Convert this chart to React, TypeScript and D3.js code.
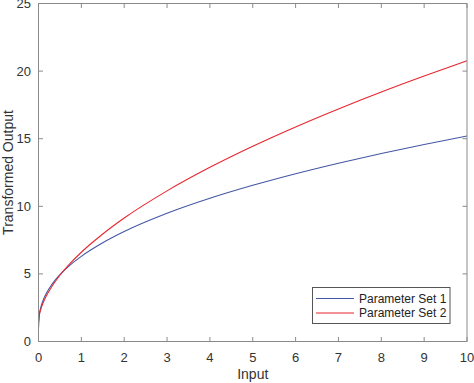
import React from "react";
import * as d3 from "d3";

const xValues = [0, 0.02, 0.05, 0.1, 0.2, 0.3, 0.5, 0.75, 1, 1.5, 2, 3, 4, 5, 6, 7, 8, 9, 10];
const set1 = [1.0, 1.99, 2.47, 2.98, 3.66, 4.17, 4.94, 5.69, 6.3, 7.3, 8.13, 9.48, 10.59, 11.55, 12.41, 13.19, 13.91, 14.57, 15.2];
const set2 = [1.45, 1.96, 2.34, 2.8, 3.47, 4.01, 4.9, 5.81, 6.6, 7.95, 9.13, 11.14, 12.88, 14.44, 15.87, 17.2, 18.45, 19.63, 20.77];
const seriesNames = ["Parameter Set 1", "Parameter Set 2"];
const xTicks = [0, 1, 2, 3, 4, 5, 6, 7, 8, 9, 10];
const yTicks = [0, 5, 10, 15, 20, 25];

const W = 474, H = 383;
const L = 38.5, R = 467, T = 3.5, B = 341.5;
const colors = ["#4457a3", "#e8262f"];
const axisColor = "#8a8a8a";
const textColor = "#333";
const font = "'Liberation Sans', Arial, Helvetica, sans-serif";

export default function App() {
  const x = d3.scaleLinear().domain([0, 10]).range([L, R]);
  const y = d3.scaleLinear().domain([0, 25]).range([B, T]);
  const line = d3
    .line<number>()
    .x((_, i) => x(xValues[i]))
    .y((d) => y(d))
    .curve(d3.curveMonotoneX);
  const series = [set1, set2];
  const tl = 4.5;
  return (
    <svg width={W} height={H} style={{ position: "absolute", left: 0, top: 0, background: "#fff" }}>
      <rect x={0} y={0} width={W} height={H} fill="#fff" />
      {series.map((s, i) => (
        <path key={i} d={line(s) || ""} fill="none" stroke={colors[i]} strokeWidth={1.1} />
      ))}
      <rect x={L} y={T} width={R - L} height={B - T} fill="none" stroke={axisColor} strokeWidth={1} />
      {xTicks.map((t) => (
        <g key={"x" + t}>
          <line x1={x(t)} x2={x(t)} y1={B} y2={B - tl} stroke={axisColor} />
          <line x1={x(t)} x2={x(t)} y1={T} y2={T + tl} stroke={axisColor} />
          <text x={x(t)} y={362} textAnchor="middle" fontSize={13} fill={textColor} fontFamily={font}>
            {t}
          </text>
        </g>
      ))}
      {yTicks.map((t) => (
        <g key={"y" + t}>
          <line x1={L} x2={L + tl} y1={y(t)} y2={y(t)} stroke={axisColor} />
          <line x1={R} x2={R - tl} y1={y(t)} y2={y(t)} stroke={axisColor} />
          <text x={31} y={y(t) + 4.5} textAnchor="end" fontSize={13} fill={textColor} fontFamily={font}>
            {t}
          </text>
        </g>
      ))}
      <text x={(L + R) / 2} y={379} textAnchor="middle" fontSize={14} fill={textColor} fontFamily={font}>
        Input
      </text>
      <text
        transform={`translate(12.5, ${(T + B) / 2}) rotate(-90)`}
        textAnchor="middle"
        fontSize={14}
        fill={textColor}
        fontFamily={font}
      >
        Transformed Output
      </text>
      <g>
        <rect x={312.5} y={287.5} width={137.5} height={36} fill="#fff" stroke="#555" strokeWidth={1} />
        {seriesNames.map((n, i) => (
          <g key={n}>
            <line x1={316} x2={354} y1={298.5 + i * 14.5} y2={298.5 + i * 14.5} stroke={colors[i]} strokeWidth={1.1} />
            <text x={359} y={302.8 + i * 14.5} fontSize={12} fill="#222" fontFamily={font}>
              {n}
            </text>
          </g>
        ))}
      </g>
    </svg>
  );
}
